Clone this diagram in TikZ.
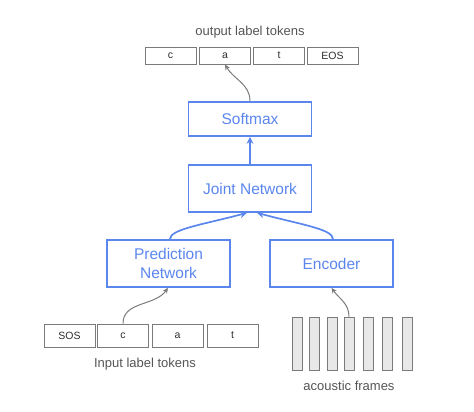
\documentclass[tikz,border=0pt]{standalone}
\usepackage{fontspec}
\setmainfont{Liberation Sans}
\usetikzlibrary{arrows.meta}
\definecolor{gblue}{HTML}{5B86EE}
\definecolor{gborder}{HTML}{7A7A7A}
\definecolor{gtext}{HTML}{2E2E2E}
\definecolor{glabel}{HTML}{555555}
\definecolor{barfill}{HTML}{E8E8E8}
\tikzset{
  bluebox/.style={draw=gblue, line width=1.7pt, text=gblue, minimum width=123pt, font=\fontsize{15.5}{18.5}\selectfont, align=center, inner sep=0pt},
  tokbox/.style={draw=gborder, line width=0.9pt, text=gtext, minimum width=51pt, font=\fontsize{10.5}{12}\selectfont, inner sep=0pt},
  barbox/.style={draw=gborder, fill=barfill, line width=0.9pt, minimum width=10pt, minimum height=53pt, inner sep=0pt},
  lbl/.style={text=glabel, font=\fontsize{13}{15}\selectfont, inner sep=0pt},
  bluearrow/.style={draw=gblue, line width=1.7pt, -{Stealth[length=7pt,width=7pt]}},
  grayarrow/.style={draw=gborder, line width=1pt, -{Stealth[length=5.5pt,width=5pt]}}
}
\begin{document}
\begin{tikzpicture}[x=1pt,y=1pt]
\useasboundingbox (0,0) rectangle (474,412);
% output tokens
\node[lbl] (outlbl) at (250,380) {output label tokens};
\node[tokbox, minimum height=17pt] (oc) at (170.5,356.5) {c};
\node[tokbox, minimum height=17pt] (oa) at (225,356.5) {a};
\node[tokbox, minimum height=17pt] (ot) at (279,356.5) {t};
\node[tokbox, minimum height=17pt] (oe) at (332.5,356.5) {EOS};
% main boxes
\node[bluebox, minimum height=34pt] (soft) at (250,293) {Softmax};
\node[bluebox, minimum height=47pt] (joint) at (250,223.5) {Joint Network};
\node[bluebox, minimum height=47pt] (pred) at (168.5,148.5) {Prediction\\Network};
\node[bluebox, minimum height=47pt] (enc) at (331.5,148.5) {Encoder};
% input tokens
\node[tokbox, minimum height=23pt] (isos) at (69.5,76.5) {SOS};
\node[tokbox, minimum height=23pt] (ic) at (123,76.5) {c};
\node[tokbox, minimum height=23pt] (ia) at (177.5,76.5) {a};
\node[tokbox, minimum height=23pt] (it) at (232.5,76.5) {t};
\node[lbl] (inlbl) at (145,48) {Input label tokens};
% acoustic frames
\node[barbox] (b1) at (297,68.5) {};
\node[barbox] (b2) at (314,68.5) {};
\node[barbox] (b3) at (332,68.5) {};
\node[barbox] (b4) at (349,68.5) {};
\node[barbox] (b5) at (368,68.5) {};
\node[barbox] (b6) at (387,68.5) {};
\node[barbox] (b7) at (407,68.5) {};
\node[lbl] (aclbl) at (349,26) {acoustic frames};
% connectors
\coordinate (jl) at ([xshift=-3pt]joint.south);
\coordinate (jr) at ([xshift=7pt]joint.south);
\coordinate (oat) at ([xshift=0pt]oa.south);
\coordinate (pt) at ([xshift=1.5pt]pred.north);
\coordinate (pb) at ([xshift=-0.5pt]pred.south);
\coordinate (et) at ([xshift=1.5pt]enc.north);
\draw[bluearrow] (joint.north) -- (soft.south);
\draw[bluearrow] (pt) .. controls ([yshift=10pt]pt) and ([xshift=-45pt,yshift=-12pt]jl) .. (jl);
\draw[bluearrow] (et) .. controls ([yshift=10pt]et) and ([xshift=45pt,yshift=-12pt]jr) .. (jr);
\draw[grayarrow] (soft.north) to[out=90,in=-60] (oat);
\draw[grayarrow] (ic.north) to[out=90,in=-125] (pb);
\draw[grayarrow] (b4.north) to[out=90,in=-55] (enc.south);
\end{tikzpicture}
\end{document}
